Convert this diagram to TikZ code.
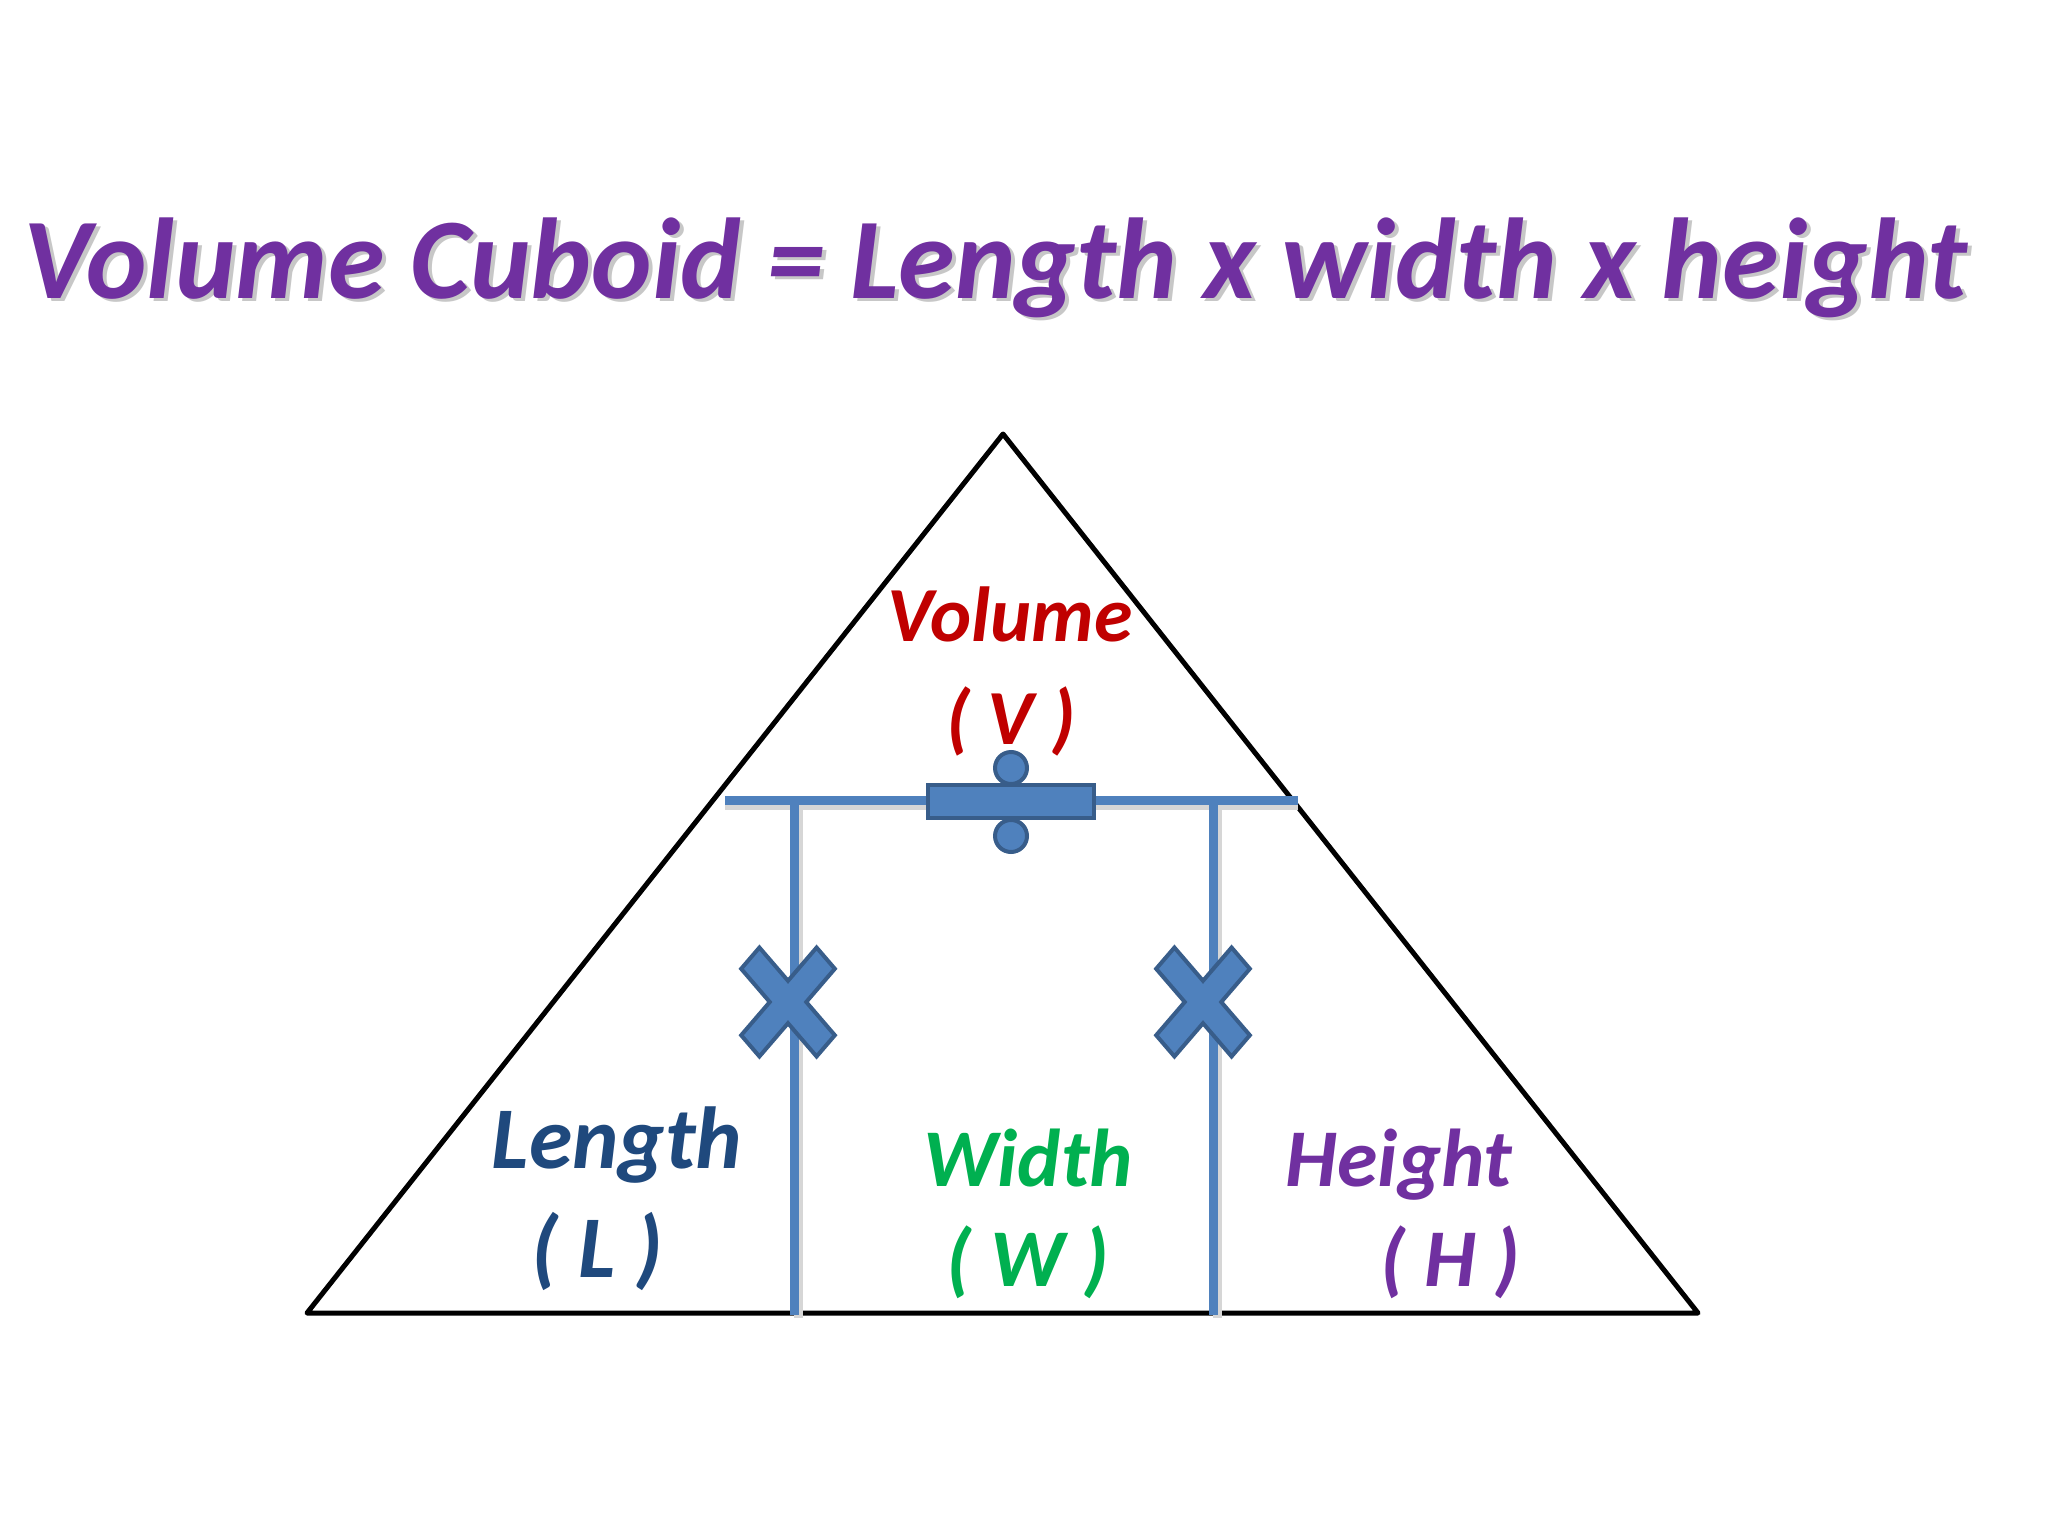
\documentclass[tikz,border=0pt]{standalone}
\usepackage{fontspec}
\setmainfont{Carlito}
\definecolor{titlepurple}{HTML}{7030A0}
\definecolor{volred}{HTML}{C00000}
\definecolor{lenblue}{HTML}{1F497D}
\definecolor{widgreen}{HTML}{00B050}
\definecolor{barblue}{HTML}{4F81BD}
\definecolor{baredge}{HTML}{385D8A}

\tikzset{
  word/.style={font=\bfseries\itshape, inner sep=0pt, anchor=base},
  bar/.style={draw=barblue, line width=9pt},
  barshadow/.style={draw=black!16, line width=9pt},
  signfill/.style={fill=barblue, draw=baredge, line width=4pt},
  crossmark/.pic={
    \path[signfill, xscale=0.86, rotate=45]
      (15,62) -- (15,15) -- (62,15) -- (62,-15) -- (15,-15) -- (15,-62)
      -- (-15,-62) -- (-15,-15) -- (-62,-15) -- (-62,15) -- (-15,15)
      -- (-15,62) -- cycle;
  }
}

\begin{document}
\begin{tikzpicture}[x=1pt, y=-1pt]
\useasboundingbox[fill=white] (0,0) rectangle (2048,1536);

% title with its shadow
\node[word, anchor=base west, text=black!22, font=\fontsize{115}{130}\selectfont\bfseries\itshape]
  (titleshadow) at (27,301) {Volume Cuboid = Length x width x height};
\node[word, anchor=base west, text=titlepurple, font=\fontsize{115}{130}\selectfont\bfseries\itshape]
  (title) at (23,298) {Volume Cuboid = Length x width x height};

% triangle
\coordinate (apex) at (1003,434);
\coordinate (bl) at (307,1313);
\coordinate (br) at (1698,1313);
\draw[line width=5pt, line join=round] (apex) -- (br) -- (bl) -- cycle;

% lines
\coordinate (hl) at (725,800);
\coordinate (hr) at (1298,800);
\coordinate (v1t) at (794,800);
\coordinate (v1b) at (794,1315);
\coordinate (v2t) at (1213,800);
\coordinate (v2b) at (1213,1315);
\draw[barshadow] ([shift={(0,5)}]hl) -- ([shift={(0,5)}]hr);
\draw[barshadow] ([shift={(4,3)}]v1t) -- ([shift={(4,3)}]v1b);
\draw[barshadow] ([shift={(4,3)}]v2t) -- ([shift={(4,3)}]v2b);
\draw[bar] (hl) -- (hr);
\draw[bar] (v1t) -- (v1b);
\draw[bar] (v2t) -- (v2b);

% divide sign
\node[signfill, circle, minimum size=32pt, inner sep=0pt] (dottop) at (1011,768) {};
\node[signfill, circle, minimum size=32pt, inner sep=0pt] (dotbot) at (1011,836) {};
\node[signfill, rectangle, minimum width=166pt, minimum height=33pt, inner sep=0pt] (divbar) at (1010.5,801.5) {};

% times signs
\pic at (788,1002) {crossmark};
\pic at (1203,1002) {crossmark};

% labels
\node[word, text=volred, font=\fontsize{78}{90}\selectfont\bfseries\itshape] (vol) at (1010,641) {Volume};
\node[word, text=volred, font=\fontsize{78}{90}\selectfont\bfseries\itshape] (volv) at (1011,744) {( V )};
\node[word, text=lenblue, font=\fontsize{88}{100}\selectfont\bfseries\itshape] (len) at (617,1168) {Length};
\node[word, text=lenblue, font=\fontsize{88}{100}\selectfont\bfseries\itshape] (lenl) at (597,1277) {( L )};
\node[word, text=widgreen, font=\fontsize{82}{95}\selectfont\bfseries\itshape] (wid) at (1028,1186) {Width};
\node[word, text=widgreen, font=\fontsize{82}{95}\selectfont\bfseries\itshape] (widw) at (1028,1286) {( W )};
\node[word, text=titlepurple, font=\fontsize{82}{95}\selectfont\bfseries\itshape] (hei) at (1399,1186) {Height};
\node[word, text=titlepurple, font=\fontsize{82}{95}\selectfont\bfseries\itshape] (heih) at (1450,1286) {( H )};
\end{tikzpicture}
\end{document}
